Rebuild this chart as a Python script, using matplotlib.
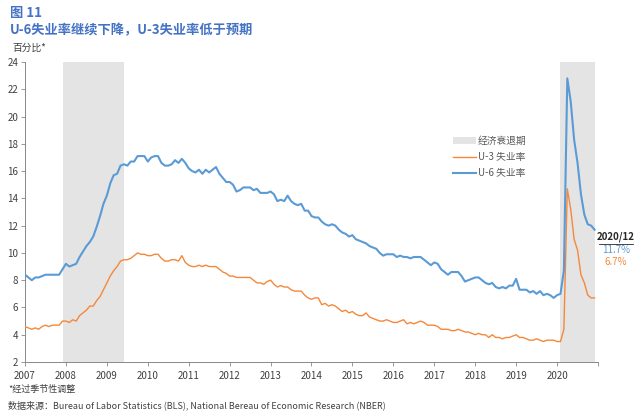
import numpy as np
import matplotlib
matplotlib.use("Agg")
import matplotlib.pyplot as plt
from matplotlib.patches import Patch
from matplotlib.lines import Line2D

plt.rcParams['font.family'] = ['Noto Sans CJK SC', 'DejaVu Sans']

# monthly data, Jan 2007 - Dec 2020 (seasonally adjusted, %)
u3 = [
    4.6, 4.5, 4.4, 4.5, 4.4, 4.6, 4.7, 4.6, 4.7, 4.7, 4.7, 5.0,
    5.0, 4.9, 5.1, 5.0, 5.4, 5.6, 5.8, 6.1, 6.1, 6.5, 6.8, 7.3,
    7.8, 8.3, 8.7, 9.0, 9.4, 9.5, 9.5, 9.6, 9.8, 10.0, 9.9, 9.9,
    9.8, 9.8, 9.9, 9.9, 9.6, 9.4, 9.4, 9.5, 9.5, 9.4, 9.8, 9.3,
    9.1, 9.0, 9.0, 9.1, 9.0, 9.1, 9.0, 9.0, 9.0, 8.8, 8.6, 8.5,
    8.3, 8.3, 8.2, 8.2, 8.2, 8.2, 8.2, 8.0, 7.8, 7.8, 7.7, 7.9,
    8.0, 7.7, 7.5, 7.6, 7.5, 7.5, 7.3, 7.2, 7.2, 7.2, 6.9, 6.7,
    6.6, 6.7, 6.7, 6.2, 6.3, 6.1, 6.2, 6.1, 5.9, 5.7, 5.8, 5.6,
    5.7, 5.5, 5.4, 5.4, 5.6, 5.3, 5.2, 5.1, 5.0, 5.0, 5.1, 5.0,
    4.9, 4.9, 5.0, 5.1, 4.8, 4.9, 4.8, 4.9, 5.0, 4.9, 4.7, 4.7,
    4.7, 4.6, 4.4, 4.4, 4.4, 4.3, 4.3, 4.4, 4.3, 4.2, 4.2, 4.1,
    4.0, 4.1, 4.0, 4.0, 3.8, 4.0, 3.8, 3.8, 3.7, 3.8, 3.8, 3.9,
    4.0, 3.8, 3.8, 3.7, 3.6, 3.6, 3.7, 3.6, 3.5, 3.6, 3.6, 3.6,
    3.5, 3.5, 4.4, 14.7, 13.2, 11.0, 10.2, 8.4, 7.8, 6.9, 6.7, 6.7,
]
u6 = [
    8.4, 8.2, 8.0, 8.2, 8.2, 8.3, 8.4, 8.4, 8.4, 8.4, 8.4, 8.8,
    9.2, 9.0, 9.1, 9.2, 9.7, 10.1, 10.5, 10.8, 11.2, 11.9, 12.7, 13.6,
    14.2, 15.1, 15.7, 15.8, 16.4, 16.5, 16.4, 16.7, 16.7, 17.1, 17.1, 17.1,
    16.7, 17.0, 17.1, 17.1, 16.6, 16.4, 16.4, 16.5, 16.8, 16.6, 16.9, 16.6,
    16.2, 16.0, 15.9, 16.1, 15.8, 16.1, 15.9, 16.1, 16.3, 15.8, 15.5, 15.2,
    15.2, 15.0, 14.5, 14.6, 14.8, 14.8, 14.8, 14.6, 14.7, 14.4, 14.4, 14.4,
    14.5, 14.3, 13.8, 13.9, 13.8, 14.2, 13.8, 13.6, 13.5, 13.6, 13.1, 13.1,
    12.7, 12.6, 12.6, 12.3, 12.1, 12.0, 12.1, 12.0, 11.7, 11.5, 11.4, 11.2,
    11.3, 11.0, 10.9, 10.8, 10.7, 10.5, 10.4, 10.3, 10.0, 9.8, 9.9, 9.9,
    9.9, 9.7, 9.8, 9.7, 9.7, 9.6, 9.7, 9.7, 9.7, 9.5, 9.3, 9.1,
    9.3, 9.2, 8.8, 8.6, 8.4, 8.6, 8.6, 8.6, 8.3, 7.9, 8.0, 8.1,
    8.2, 8.2, 8.0, 7.8, 7.7, 7.8, 7.5, 7.4, 7.5, 7.4, 7.6, 7.6,
    8.1, 7.3, 7.3, 7.3, 7.1, 7.2, 7.0, 7.2, 6.9, 7.0, 6.9, 6.7,
    6.9, 7.0, 8.7, 22.8, 21.1, 18.3, 16.6, 14.3, 12.8, 12.1, 12.0, 11.7,
]
recessions = [(2007 + 11/12, 2009 + 5/12), (2020 + 1/12, 2020 + 11/12)]
years = list(range(2007, 2021))

t = 2007 + np.arange(len(u3)) / 12

BLUE = '#5B9BD5'
ORANGE = '#F5883A'
TITLE = '#4472C4'
TXT = '#404040'

fig = plt.figure(figsize=(6.4, 4.18), dpi=100)
ax = fig.add_axes([25/640, 1 - 362/418, (598 - 25)/640, 300/418])

for a, b in recessions:
    ax.axvspan(a, b, ymin=0, ymax=1, color='#E4E4E4', lw=0, zorder=0)

ax.plot(t, u3, color=ORANGE, lw=1.0, zorder=3)
ax.plot(t, u6, color=BLUE, lw=1.5, zorder=4)

ax.set_xlim(2007, 2021)
ax.set_ylim(2, 24)
ax.set_yticks(range(2, 25, 2))
ax.set_xticks(years + [2021])
ax.set_xticklabels([str(y) for y in years] + [''])
ax.tick_params(axis='both', labelsize=7, colors=TXT, length=3, width=0.6)
ax.tick_params(axis='x', color='#888888')
ax.tick_params(axis='y', color='#888888', pad=2)
for s in ['top', 'right']:
    ax.spines[s].set_visible(False)
for s in ['left', 'bottom']:
    ax.spines[s].set_color('#888888')
    ax.spines[s].set_linewidth(0.7)

handles = [Patch(facecolor='#E4E4E4', edgecolor='none', label='经济衰退期'),
           Line2D([], [], color=ORANGE, lw=1.0, label='U-3 失业率'),
           Line2D([], [], color=BLUE, lw=1.5, label='U-6 失业率')]
leg = fig.legend(handles=handles, loc='upper left', bbox_to_anchor=(444/640, 1 - 127/418),
                 frameon=False, fontsize=7, handlelength=2.4, handletextpad=0.15,
                 labelspacing=0.65)
for txt in leg.get_texts():
    txt.set_color('#595959')

fig.text(10/640, 1 - 13/418, '图 11', color=TITLE, fontsize=9.5, fontweight='bold', va='center')
fig.text(10/640, 1 - 30/418, 'U-6失业率继续下降，U-3失业率低于预期', color=TITLE,
         fontsize=9.5, fontweight='bold', va='center')
fig.text(12/640, 1 - 48/418, '百分比*', color=TXT, fontsize=7, va='center')

fig.text(616/640, 1 - 237/418, '2020/12', color='#262626', fontsize=7, fontweight='bold',
         ha='center', va='center')
fig.add_artist(Line2D([599/640, 633/640], [1 - 244/418, 1 - 244/418], color='#262626', lw=0.6))
fig.text(616/640, 1 - 250/418, f'{u6[-1]}%', color=BLUE, fontsize=7, ha='center', va='center')
fig.text(616/640, 1 - 262/418, f'{u3[-1]}%', color=ORANGE, fontsize=7, ha='center', va='center')

fig.text(8/640, 1 - 389/418, '*经过季节性调整', color=TXT, fontsize=6.5, va='center')
fig.text(8/640, 1 - 405/418,
         '数据来源：Bureau of Labor Statistics (BLS), National Bereau of Economic Research (NBER)',
         color=TXT, fontsize=6.5, va='center')

fig.savefig('out.png', dpi=100)
